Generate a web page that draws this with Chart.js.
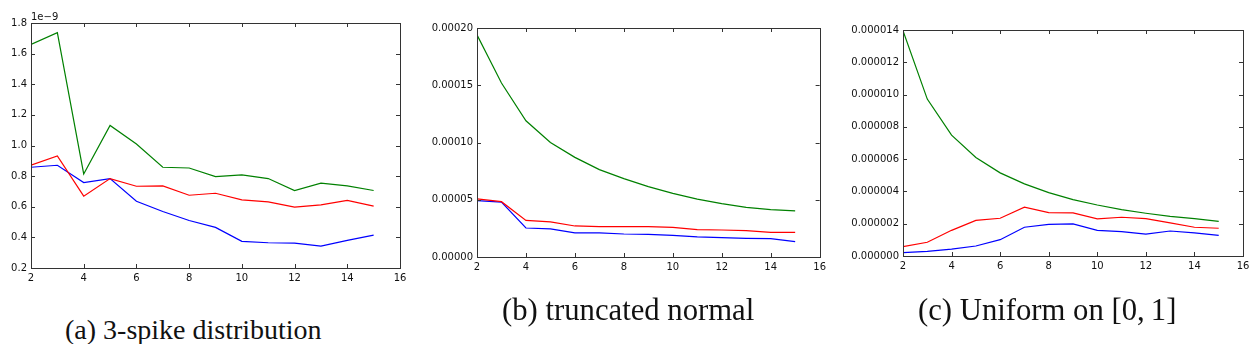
<!DOCTYPE html>
<html>
<head>
<meta charset="utf-8">
<script src="https://cdn.jsdelivr.net/npm/chart.js@4/dist/chart.umd.min.js"></script>
<style>
  body { margin: 0; background: #fff; width: 1258px; height: 344px; position: relative; overflow: hidden; }
  canvas { position: absolute; top: 0; }
  .cap { position: absolute; font-family: "Liberation Serif", "Times New Roman", Times, serif; font-size: 28px; line-height: 28px; color: #111; white-space: nowrap; }
  .big { font-size: 30.7px; line-height: 31px; }
</style>
</head>
<body>
<canvas id="c1" width="420" height="300" style="left:0"></canvas>
<canvas id="c2" width="420" height="300" style="left:410px"></canvas>
<canvas id="c3" width="428" height="300" style="left:830px"></canvas>
<div class="cap" style="left:65px;top:316px">(a) 3-spike distribution</div>
<div class="cap big" style="left:502px;top:295px">(b) truncated normal</div>
<div class="cap big" style="left:918px;top:295px">(c) Uniform on [0,&thinsp;1]</div>
<script>
const xs = [2, 3, 4, 5, 6, 7, 8, 9, 10, 11, 12, 13, 14, 15];

// (a) 3-spike distribution, units of 1e-9
const spikeGreen = [1.66, 1.737, 0.814, 1.131, 1.01, 0.858, 0.853, 0.797, 0.808, 0.784, 0.706, 0.754, 0.736, 0.706];
const spikeRed   = [0.871, 0.932, 0.669, 0.784, 0.734, 0.736, 0.675, 0.688, 0.645, 0.632, 0.597, 0.612, 0.641, 0.604];
const spikeBlue  = [0.858, 0.871, 0.758, 0.784, 0.636, 0.569, 0.510, 0.465, 0.374, 0.365, 0.363, 0.343, 0.380, 0.415];

// (b) truncated normal
const normGreen = [0.000194, 0.000152, 0.000119, 0.0001, 0.000087, 0.0000763, 0.0000684, 0.0000615, 0.0000555, 0.0000505, 0.0000466, 0.0000434, 0.0000413, 0.0000402];
const normRed   = [0.0000507, 0.0000483, 0.000032, 0.0000306, 0.0000271, 0.0000265, 0.0000265, 0.0000265, 0.0000259, 0.0000239, 0.0000236, 0.000023, 0.0000215, 0.0000215];
const normBlue  = [0.0000492, 0.000048, 0.0000253, 0.0000245, 0.000021, 0.000021, 0.0000201, 0.0000198, 0.0000189, 0.0000175, 0.0000169, 0.0000163, 0.000016, 0.0000134];

// (c) uniform on [0,1], units of 1e-6
const unifGreen = [13.96, 9.72, 7.49, 6.10, 5.15, 4.47, 3.93, 3.49, 3.16, 2.87, 2.65, 2.46, 2.32, 2.15];
const unifRed   = [0.58, 0.85, 1.59, 2.21, 2.34, 3.02, 2.69, 2.67, 2.30, 2.40, 2.32, 2.05, 1.78, 1.72];
const unifBlue  = [0.21, 0.29, 0.43, 0.62, 1.01, 1.78, 1.96, 1.99, 1.59, 1.51, 1.36, 1.55, 1.43, 1.28];

const xTicks = [2, 4, 6, 8, 10, 12, 14, 16];

const pts = (ys, scale) => xs.map((x, i) => ({ x, y: ys[i] * scale }));

// matplotlib-ish box frame with inward ticks on all sides
const frame = {
  id: 'frame',
  afterDatasetsDraw(chart) {
    const { ctx, chartArea: a, scales } = chart;
    ctx.save();
    ctx.strokeStyle = '#333';
    ctx.lineWidth = 1;
    ctx.beginPath();
    scales.x.ticks.forEach(t => {
      const px = Math.round(scales.x.getPixelForValue(t.value)) + 0.5;
      ctx.moveTo(px, a.bottom); ctx.lineTo(px, a.bottom - 4);
      ctx.moveTo(px, a.top); ctx.lineTo(px, a.top + 4);
    });
    scales.y.ticks.forEach(t => {
      const py = Math.round(scales.y.getPixelForValue(t.value)) + 0.5;
      ctx.moveTo(a.left, py); ctx.lineTo(a.left + 4, py);
      ctx.moveTo(a.right, py); ctx.lineTo(a.right - 4, py);
    });
    ctx.stroke();
    ctx.strokeRect(Math.round(a.left) + 0.5, Math.round(a.top) + 0.5,
      Math.round(a.right - a.left), Math.round(a.bottom - a.top));
    const off = chart.options.plugins.frame?.offsetText;
    if (off) {
      ctx.fillStyle = '#111';
      ctx.font = '10px "DejaVu Sans"';
      ctx.textBaseline = 'bottom';
      ctx.textAlign = 'left';
      ctx.fillText(off, a.left, a.top - 1);
    }
    ctx.restore();
  }
};

function makeChart(id, sets, o) {
  new Chart(document.getElementById(id), {
    type: 'line',
    data: {
      datasets: sets.map(([data, color]) => ({
        data, borderColor: color, borderWidth: 1.2, pointRadius: 0, tension: 0, fill: false
      }))
    },
    options: {
      responsive: false,
      animation: false,
      layout: { autoPadding: false, padding: { top: o.top, right: o.right, left: 0, bottom: 0 } },
      plugins: { legend: { display: false }, tooltip: { enabled: false }, frame: { offsetText: o.offsetText } },
      scales: {
        x: {
          type: 'linear', min: 2, max: 16,
          afterBuildTicks: s => { s.ticks = xTicks.map(v => ({ value: v })); },
          afterFit: s => { s.height = o.xh; },
          grid: { display: false, drawTicks: false },
          border: { display: false },
          ticks: { padding: 4, color: '#111', font: { family: 'DejaVu Sans', size: 10 }, maxRotation: 0 }
        },
        y: {
          type: 'linear', min: o.ymin, max: o.ymax,
          afterBuildTicks: s => { s.ticks = o.yTicks.map(v => ({ value: v })); },
          afterFit: s => { s.width = o.yw; },
          grid: { display: false, drawTicks: false },
          border: { display: false },
          ticks: { padding: 4, color: '#111', font: { family: 'DejaVu Sans', size: 10 }, callback: o.fmt }
        }
      }
    },
    plugins: [frame]
  });
}

makeChart('c1', [[pts(spikeGreen, 1), '#008000'], [pts(spikeRed, 1), '#ff0000'], [pts(spikeBlue, 1), '#0000ff']], {
  top: 23, right: 20, xh: 32, yw: 31, ymin: 0.2, ymax: 1.8,
  yTicks: [0.2, 0.4, 0.6, 0.8, 1.0, 1.2, 1.4, 1.6, 1.8],
  fmt: v => v.toFixed(1), offsetText: '1e\u22129'
});

makeChart('c2', [[pts(normGreen, 1), '#008000'], [pts(normRed, 1), '#ff0000'], [pts(normBlue, 1), '#0000ff']], {
  top: 28, right: 9, xh: 43, yw: 67, ymin: 0, ymax: 0.0002,
  yTicks: [0, 0.00005, 0.0001, 0.00015, 0.0002],
  fmt: v => v.toFixed(5)
});

makeChart('c3', [[pts(unifGreen, 1e-6), '#008000'], [pts(unifRed, 1e-6), '#ff0000'], [pts(unifBlue, 1e-6), '#0000ff']], {
  top: 30, right: 15, xh: 44, yw: 73, ymin: 0, ymax: 0.000014,
  yTicks: [0, 0.000002, 0.000004, 0.000006, 0.000008, 0.00001, 0.000012, 0.000014],
  fmt: v => v.toFixed(6)
});
</script>
</body>
</html>
